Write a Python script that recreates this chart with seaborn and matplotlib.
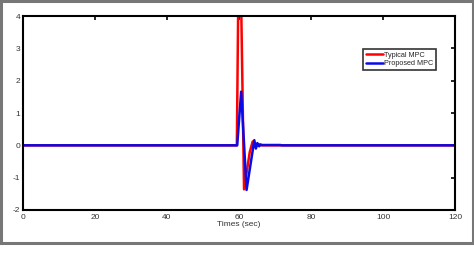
import matplotlib
matplotlib.use("Agg")
import matplotlib.pyplot as plt
import seaborn as sns
import pandas as pd
from matplotlib.patches import Rectangle

# Data
t_typical = [0, 59.4, 60.1, 61.4, 63.0, 63.8, 64.6, 65.3, 66.0, 120]
y_typical = [0, 0, 8.0, -1.36, -0.2, 0.12, -0.05, 0.03, 0.0, 0]

t_proposed = [0, 59.5, 60.6, 62.1, 64.25, 64.7, 65.1, 65.6, 65.9, 66.4, 71.4, 72.0, 120]
y_proposed = [0, 0, 1.66, -1.38, 0.16, -0.1, 0.07, -0.03, 0.03, 0.01, 0.01, 0.0, 0]

x_ticks = [0, 20, 40, 60, 80, 100, 120]
y_ticks = [-2, -1, 0, 1, 2, 3, 4]
series_names = ["Typical MPC", "Proposed MPC"]
x_label = "Times (sec)"

df = pd.concat([
    pd.DataFrame({"t": t_typical, "y": y_typical, "series": series_names[0]}),
    pd.DataFrame({"t": t_proposed, "y": y_proposed, "series": series_names[1]}),
], ignore_index=True)

sns.set_theme(style="white")
plt.rcParams["font.family"] = ["Liberation Sans", "DejaVu Sans"]

fig = plt.figure(figsize=(4.74, 2.6), dpi=100)
fig.patch.set_facecolor("white")
# outer gray frame
fig.patches.append(Rectangle((1 / 474, 1 - 243 / 260), 471.5 / 474, 242 / 260,
                             transform=fig.transFigure, fill=False,
                             edgecolor="#777777", linewidth=2.2, zorder=0))

ax = fig.add_axes([23 / 474, 1 - 210 / 260, (455 - 23) / 474, (210 - 16) / 260])
sns.lineplot(data=df, x="t", y="y", hue="series", estimator=None, sort=False,
             palette={series_names[0]: "#ff0000", series_names[1]: "#0a0ae6"},
             linewidth=1.8, ax=ax, legend=True)

ax.set_xlim(0, 120)
ax.set_ylim(-2, 4)
ax.set_xticks(x_ticks)
ax.set_yticks(y_ticks)
ax.set_xticklabels([str(v) for v in x_ticks])
ax.set_yticklabels([str(v) for v in y_ticks])
ax.tick_params(axis="both", direction="in", length=3, width=1.2, colors="black",
               labelsize=6, labelcolor="#333333", top=True, right=True, pad=2)
ax.tick_params(axis="x", pad=3)
for s in ax.spines.values():
    s.set_visible(True)
    s.set_color("black")
    s.set_linewidth(1.5)
ax.set_xlabel(x_label, fontsize=6, color="#333333", labelpad=0)
ax.set_ylabel("")

leg = ax.legend(loc="upper left", bbox_to_anchor=((363 - 23) / 432, 1 - (49 - 16) / 194),
                fontsize=5.2, frameon=True, fancybox=False, handlelength=2.4,
                handletextpad=0.1, borderpad=0.4, labelspacing=0.2,
                borderaxespad=0)
leg.get_frame().set_edgecolor("black")
leg.get_frame().set_linewidth(1.2)
for h in leg.get_lines():
    h.set_linewidth(1.8)

fig.savefig("out.png", dpi=100)
